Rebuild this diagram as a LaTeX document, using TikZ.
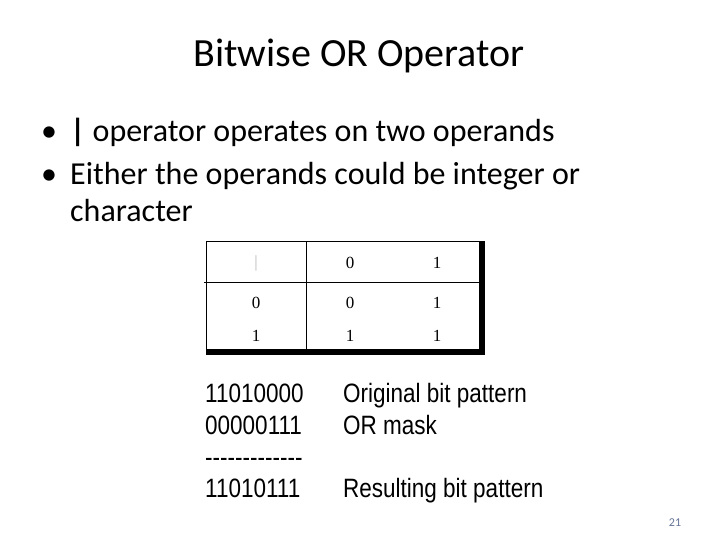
\documentclass[tikz,border=0pt]{standalone}
\usepackage{fontspec}
\setmainfont{Carlito}
\newfontfamily\tabfont{Liberation Serif}
\newfontfamily\arialfont{Liberation Sans}
\usetikzlibrary{positioning}
\definecolor{pagenum}{RGB}{100,115,150}

\begin{document}
\begin{tikzpicture}[x=1bp, y=-1bp,
	txt/.style={inner sep=0pt, anchor=base west},
	cell/.style={inner sep=0pt, font=\tabfont\fontsize{17bp}{20bp}\selectfont},
	bits/.style={inner sep=0pt, anchor=base west, font=\arialfont\fontsize{22.5bp}{27bp}\selectfont}]
		\useasboundingbox (0,0) rectangle (720,540);
		\def\body{\fontsize{32bp}{38bp}\selectfont}
		% title and bullets
		\node[inner sep=0pt, anchor=base, font=\fontsize{40bp}{48bp}\selectfont] (title) at (359,67) {Bitwise OR Operator};
		\node[inner sep=0pt, anchor=base, font=\body] (b1) at (49,142) {\textbullet};
		\node[txt, font=\body] (l1) at (70,142) {\textbf{|} operator operates on two operands};
		\node[inner sep=0pt, anchor=base, font=\body] (b2) at (49,185) {\textbullet};
		\node[txt, font=\body] (l2) at (70,185) {Either the operands could be integer or};
		\node[txt, font=\body] (l3) at (70,222) {character};
		% truth table
		\fill (479,241) rectangle (485,355);
		\fill (206,349) rectangle (485,355);
		\draw[line width=0.8bp] (206,241) -- (479,241);
		\draw[line width=0.8bp] (206,241) -- (206,349);
		\draw[line width=0.8bp] (306,241) -- (306,349);
		\draw[line width=0.8bp] (204,282) -- (479,282);
		\node[cell, text=gray!55] (op) at (256,263) {|};
		\node[cell] (h0) at (350,263) {0};
		\node[cell] (h1) at (437,263) {1};
		\node[cell] (r0) at (256,303) {0};
		\node[cell] (r00) at (350,303) {0};
		\node[cell] (r01) at (437,303) {1};
		\node[cell] (r1) at (256,336) {1};
		\node[cell] (r10) at (350,336) {1};
		\node[cell] (r11) at (437,336) {1};
		% bit pattern example
		\node[bits] (p1) at (205,402) {\scalebox{1}[1.18]{11010000}};
		\node[bits] (d1) at (343,402) {\scalebox{1}[1.18]{Original bit pattern}};
		\node[bits] (p2) at (205,434) {\scalebox{1}[1.18]{00000111}};
		\node[bits] (d2) at (343,434) {\scalebox{1}[1.18]{OR mask}};
		\node[bits] (dash) at (205,466) {\scalebox{1}[1.18]{-{}-{}-{}-{}-{}-{}-{}-{}-{}-{}-{}-{}-}};
		\node[bits] (p3) at (205,497) {\scalebox{1}[1.18]{11010111}};
		\node[bits] (d3) at (343,497) {\scalebox{1}[1.18]{Resulting bit pattern}};
		% slide number
		\node[inner sep=0pt, anchor=base, text=pagenum, font=\fontsize{12bp}{14bp}\selectfont] (num) at (675,526) {21};
\end{tikzpicture}
\end{document}
